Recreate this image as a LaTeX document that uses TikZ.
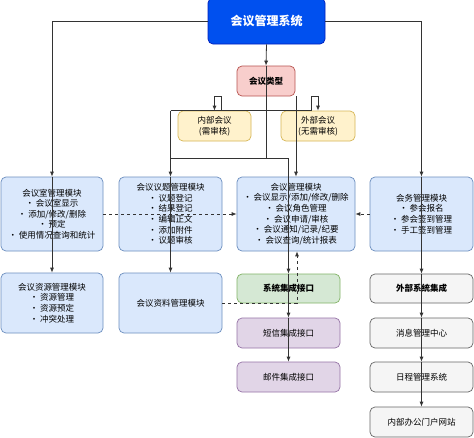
\documentclass[tikz,border=0pt]{standalone}
\usepackage{fontspec}
\setmainfont{Noto Sans CJK SC}
\usetikzlibrary{arrows.meta}
\definecolor{topfill}{HTML}{0050EF}
\definecolor{topdraw}{HTML}{001DBC}
\definecolor{redfill}{HTML}{F8CECC}
\definecolor{reddraw}{HTML}{B85450}
\definecolor{yelfill}{HTML}{FFF2CC}
\definecolor{yeldraw}{HTML}{D6B656}
\definecolor{bluefill}{HTML}{DAE8FC}
\definecolor{bluedraw}{HTML}{6C8EBF}
\definecolor{grnfill}{HTML}{D5E8D4}
\definecolor{grndraw}{HTML}{82B366}
\definecolor{purfill}{HTML}{E1D5E7}
\definecolor{purdraw}{HTML}{9673A6}
\definecolor{grayfill}{HTML}{F5F5F5}
\definecolor{graydraw}{HTML}{666666}
\definecolor{wire}{HTML}{333333}

\begin{document}
\begin{tikzpicture}[x=1pt,y=-1pt]
\tikzstyle{every node}+=[inner sep=0pt,font=\fontsize{8.5}{10.6}\selectfont]
\tikzstyle{box}=[draw,rounded corners=5pt,line width=0.7pt,align=center,anchor=center]
\tikzstyle{mainbox}=[box,fill=topfill,draw=topdraw,text=white,font=\fontsize{12}{14}\selectfont\bfseries,minimum width=117pt,minimum height=46pt]
\tikzstyle{typebox}=[box,fill=redfill,draw=reddraw,font=\fontsize{8.5}{10.6}\selectfont\bfseries,minimum width=58pt,minimum height=30pt]
\tikzstyle{kindbox}=[box,fill=yelfill,draw=yeldraw,minimum width=74pt,minimum height=30pt]
\tikzstyle{modbox}=[box,fill=bluefill,draw=bluedraw,minimum width=103pt,minimum height=74pt]
\tikzstyle{grnbox}=[box,fill=grnfill,draw=grndraw,font=\fontsize{8.5}{10.6}\selectfont\bfseries,minimum width=103pt,minimum height=29pt]
\tikzstyle{purbox}=[box,fill=purfill,draw=purdraw,minimum width=103pt,minimum height=30pt]
\tikzstyle{graybox}=[box,fill=grayfill,draw=graydraw,minimum width=103pt,minimum height=30pt]
\tikzstyle{wireline}=[draw=wire,line width=0.8pt]
\tikzstyle{link}=[wireline,-{Latex[length=5pt,width=4pt]}]
\tikzstyle{dlink}=[wireline,dashed,-{Latex[length=5pt,width=4pt]}]
\useasboundingbox (0,0) rectangle (474,437);
\fill[white] (0,0) rectangle (474,437);

% top and meeting types
\node[mainbox] (sys) at (266.5,21) {会议管理系统};
\node[typebox] (type) at (266,81) {会议类型};
\node[kindbox,minimum width=73pt] (inner) at (214.5,126) {内部会议\\(需审核)};
\node[kindbox] (outer) at (318,126) {外部会议\\(无需审核)};

% modules
\node[modbox,minimum width=102pt] (room) at (52,214) {会议室管理模块\\\textbullet\ 会议室显示\\\textbullet\ 添加/修改/删除\\\textbullet\ 预定\\\textbullet\ 使用情况查询和统计};
\node[modbox] (topic) at (170.5,214) {会议议题管理模块\\\textbullet\ 议题登记\\\textbullet\ 结果登记\\\textbullet\ 编辑正文\\\textbullet\ 添加附件\\\textbullet\ 议题审核};
\node[modbox,minimum width=118pt] (meet) at (296,214) {会议管理模块\\\textbullet\ 会议显示/添加/修改/删除\\\textbullet\ 会议角色管理\\\textbullet\ 会议申请/审核\\\textbullet\ 会议通知/记录/纪要\\\textbullet\ 会议查询/统计报表};
\node[modbox] (affair) at (421.5,214) {会务管理模块\\\textbullet\ 参会报名\\\textbullet\ 参会签到管理\\\textbullet\ 手工签到管理};
\node[modbox,minimum width=102pt,minimum height=60pt] (res) at (52,303) {会议资源管理模块\\\textbullet\ 资源管理\\\textbullet\ 资源预定\\\textbullet\ 冲突处理};
\node[modbox,minimum height=60pt] (data) at (170.5,303) {会议资料管理模块};

% interfaces
\node[grnbox] (integ) at (288.5,288.5) {系统集成接口};
\node[purbox] (sms) at (288.5,333) {短信集成接口};
\node[purbox] (mail) at (288.5,377) {邮件集成接口};
\node[graybox,font=\fontsize{8.5}{10.6}\selectfont\bfseries,minimum height=29pt] (ext) at (421.5,288.5) {外部系统集成};
\node[graybox] (msg) at (421.5,333) {消息管理中心};
\node[graybox] (sched) at (421.5,377) {日程管理系统};
\node[graybox] (portal) at (421.5,422) {内部办公门户网站};

\coordinate (split) at (266,158);

% connectors
\draw[link] (sys.west) -| (room.north);
\draw[link] (room.north) -- (res.north);
\draw[link] (sys.east) -| (affair.north);
\draw[link] (affair.north) -- (ext.north);
\draw[link] (ext.north) -- (msg.north);
\draw[link] (msg.north) -- (sched.north);
\draw[link] (sched.north) -- (portal.north);
\draw[link] (sys.south) -- (type.north);
\draw[wireline] (type.north) -- (split);
\draw[wireline] (split -| topic.north) -- (split -| integ.north);
\draw[wireline] (topic.north |- inner.north) -- ([xshift=-7pt]outer.north);
\draw[link] ([xshift=7pt]inner.north) -- ++(0,-14) -| (inner.north);
\draw[link] ([xshift=-7pt]outer.north) -- ++(0,-14) -| (outer.north);
\draw[link] (topic.north |- inner.north) -- (topic.north);
\draw[link] (topic.north) -- (data.north);
\draw[link] (type.south -| meet.north) -- (meet.north);
\draw[link] (split -| integ.north) -- (integ.north);
\draw[link] (integ.north) -- (sms.north);
\draw[link] (sms.north) -- (mail.north);
\draw[dlink] (room.east) -- (meet.west);
\draw[dlink] (affair.west) -- (meet.east);
\draw[dlink] (data.east) -| ([xshift=1pt]meet.south);
\end{tikzpicture}
\end{document}
